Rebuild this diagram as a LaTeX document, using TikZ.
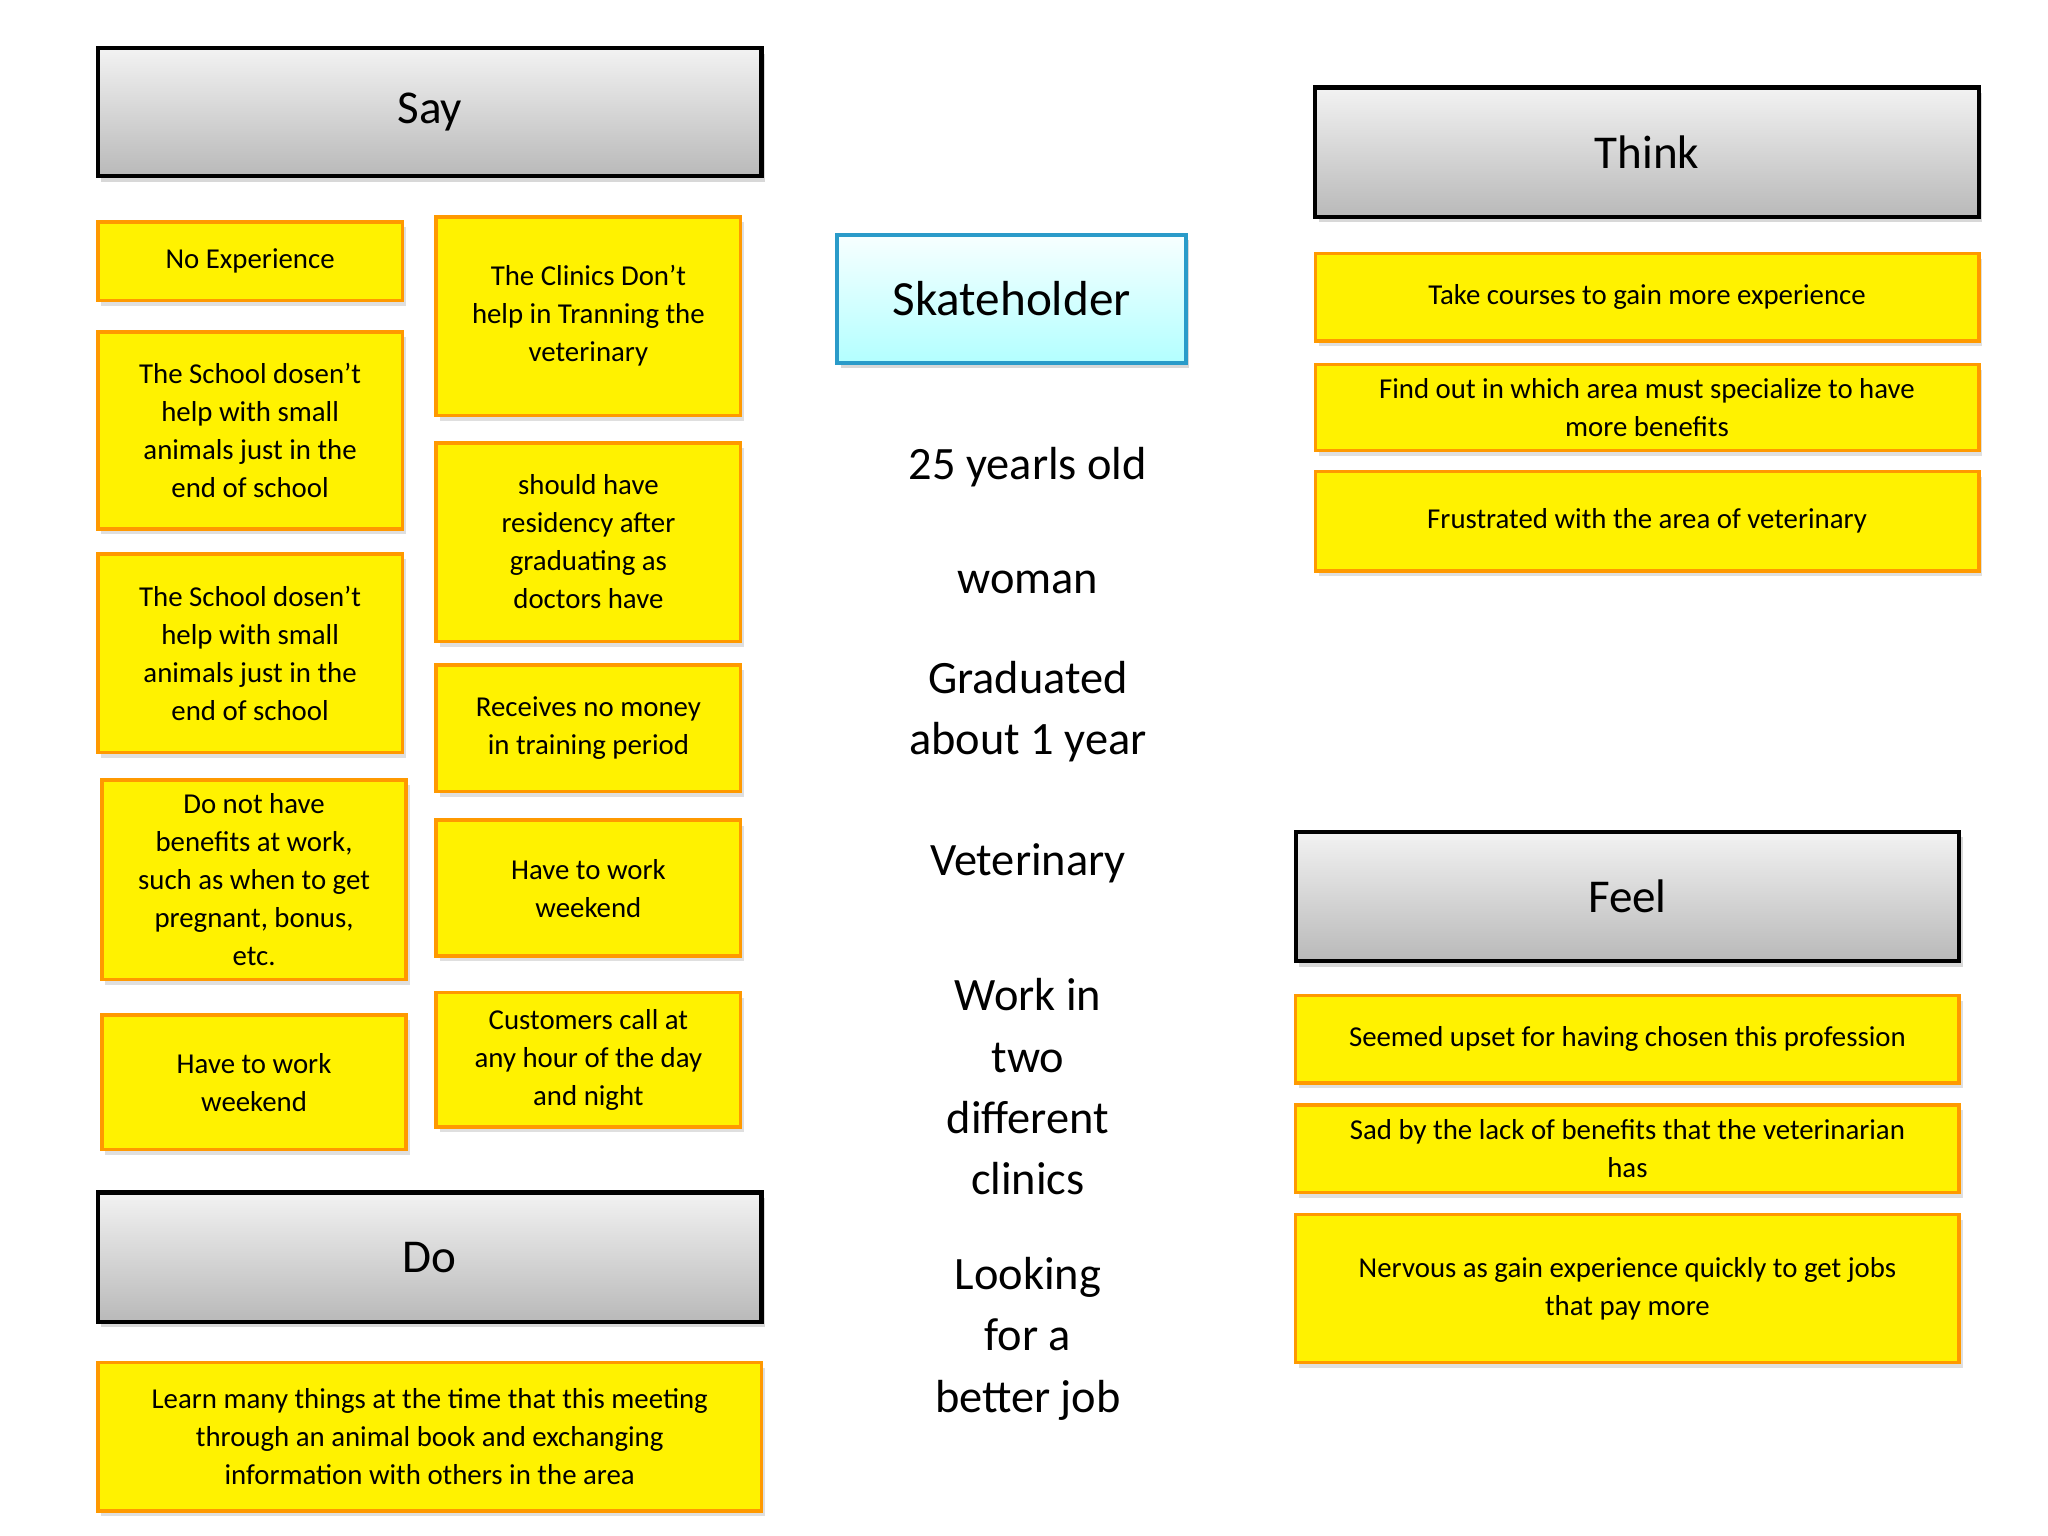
\documentclass[tikz,border=0pt]{standalone}
\usepackage{fontspec}
\setmainfont{Carlito}
\usetikzlibrary{shadows}
\newcommand\bx[6]{\node[#6, minimum width={(#4-#2)*0.01306cm}, minimum height={(#5-#3)*0.01306cm}] (#1) at ({(#2+#4)/2},{(#3+#5)/2})}
\tikzset{
 x=0.01306cm, y=-0.01306cm,
 ybox/.style={draw=orange!80!yellow, line width=1pt, fill=yellow, align=center, inner sep=0pt,
   font=\fontsize{8.2}{10.8}\selectfont, drop shadow={shadow xshift=1pt, shadow yshift=-1.5pt, opacity=0.25}},
 hbox/.style={draw=black, line width=1.2pt, top color=gray!10, bottom color=gray!55, inner sep=0pt,
   font=\fontsize{13.4}{16}\selectfont, drop shadow={shadow xshift=1pt, shadow yshift=-1.5pt, opacity=0.3}},
 sbox/.style={draw=cyan!60!teal, line width=1.2pt, top color=cyan!3, bottom color=cyan!30, inner sep=0pt,
   font=\fontsize{14}{17}\selectfont, drop shadow={shadow xshift=1pt, shadow yshift=-1.5pt, opacity=0.3}},
 ctext/.style={align=center, font=\fontsize{13.2}{17.4}\selectfont}
}
\begin{document}
\begin{tikzpicture}
\fill[white] (0,0) rectangle (1568,1176);
\useasboundingbox (0,0) rectangle (1568,1176);
\bx{say}{75}{37}{583}{135}{hbox}{Say};
\bx{think}{1007}{67}{1515}{166}{hbox}{Think};
\bx{feel}{992}{637}{1500}{736}{hbox}{Feel};
\bx{do}{75}{913}{583}{1012}{hbox}{Do};
\bx{sk}{641}{180}{908}{278}{sbox}{Skateholder};
\bx{l1}{75}{170}{308}{230}{ybox}{No Experience};
\bx{l2}{75}{254}{308}{405}{ybox}{The School dosen’t\\help with small\\animals just in the\\end of school};
\bx{l3}{75}{424}{308}{576}{ybox}{The School dosen’t\\help with small\\animals just in the\\end of school};
\bx{l4}{78}{597}{311}{750}{ybox}{Do not have\\benefits at work,\\such as when to get\\pregnant, bonus,\\etc.};
\bx{l5}{78}{777}{311}{880}{ybox}{Have to work\\weekend};
\bx{r1}{334}{166}{567}{318}{ybox}{The Clinics Don’t\\help in Tranning the\\veterinary};
\bx{r2}{334}{339}{567}{491}{ybox}{should have\\residency after\\graduating as\\doctors have};
\bx{r3}{334}{509}{567}{606}{ybox}{Receives no money\\in training period};
\bx{r4}{334}{628}{567}{732}{ybox}{Have to work\\weekend};
\bx{r5}{334}{760}{567}{863}{ybox}{Customers call at\\any hour of the day\\and night};
\bx{d1}{75}{1043}{583}{1157}{ybox}{Learn many things at the time that this meeting\\through an animal book and exchanging\\information with others in the area};
\bx{t1}{1007}{194}{1515}{261}{ybox}{Take courses to gain more experience};
\bx{t2}{1007}{279}{1515}{345}{ybox}{Find out in which area must specialize to have\\more benefits};
\bx{t3}{1007}{361}{1515}{437}{ybox}{Frustrated with the area of veterinary};
\bx{f1}{992}{762}{1500}{829}{ybox}{Seemed upset for having chosen this profession};
\bx{f2}{992}{846}{1500}{913}{ybox}{Sad by the lack of benefits that the veterinarian\\has};
\bx{f3}{992}{930}{1500}{1043}{ybox}{Nervous as gain experience quickly to get jobs\\that pay more};
\node[ctext] (c1) at (787,358) {25 yearls old};
\node[ctext] (c2) at (787,446) {woman};
\node[ctext] (c3) at (787,545) {Graduated\\about 1 year};
\node[ctext] (c4) at (787,661) {Veterinary};
\node[ctext] (c5) at (787,832) {Work in\\two\\different\\clinics};
\node[ctext] (c6) at (787,1025) {Looking\\for a\\better job};
\end{tikzpicture}
\end{document}
